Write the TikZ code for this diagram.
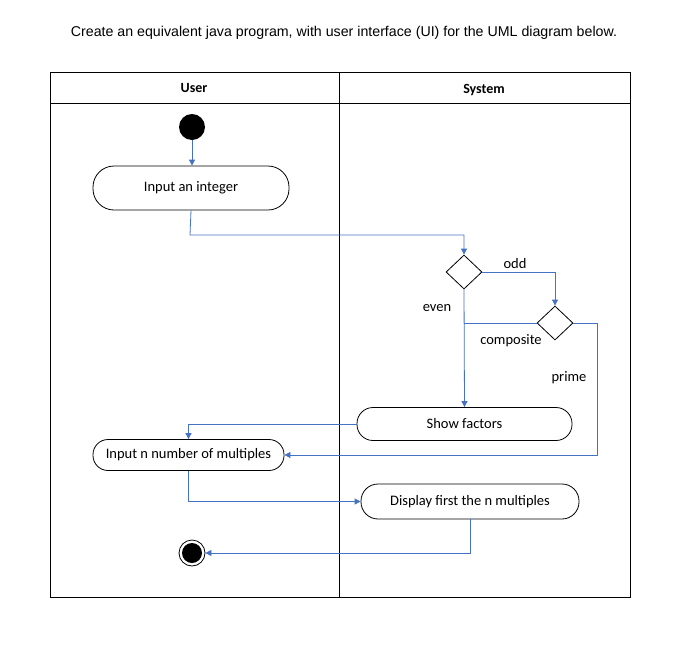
\documentclass[tikz,border=0pt]{standalone}
\usepackage{fontspec}
\setmainfont{Carlito}
\newfontfamily\titlefont{Liberation Sans}
\usetikzlibrary{arrows.meta,shapes.geometric}
\definecolor{flow}{HTML}{4472C4}
\begin{document}
\begin{tikzpicture}[x=1pt,y=-1pt,
  act/.style={draw,thick,font=\fontsize{14.5}{16}\selectfont},
  dec/.style={draw,diamond,thick,minimum width=36pt,minimum height=34pt,inner sep=0pt},
  flw/.style={flow,thick},
  arr/.style={flw,-{Triangle[length=6pt,width=6pt]}},
  lbl/.style={font=\fontsize{14.5}{16}\selectfont}]
\useasboundingbox (0,0) rectangle (688,654);
\node[font=\titlefont\fontsize{14.2}{16}\selectfont] (title) at (344,33) {Create an equivalent java program, with user interface (UI) for the UML diagram below.};
% swimlanes
\draw (50,72) rectangle (630,597);
\draw (50,103) -- (630,103);
\draw (339,72) -- (339,597);
\node[font=\bfseries\fontsize{14}{16}\selectfont] (user) at (194,88) {User};
\node[font=\bfseries\fontsize{14}{16}\selectfont] (sys) at (484,90) {System};
% nodes
\node[circle,fill=black,minimum size=26pt,inner sep=0pt] (start) at (192,127) {};
\node[act,rounded corners=21pt,minimum width=196pt,minimum height=44pt] (in) at (191,188) {Input an integer};
\node[dec] (d1) at (464,272) {};
\node[dec] (d2) at (555,323) {};
\node[act,rounded corners=16pt,minimum width=215pt,minimum height=33pt] (show) at (464.5,424) {Show factors};
\node[act,rounded corners=15pt,minimum width=191pt,minimum height=31pt] (inn) at (188.5,455) {Input n number of multiples};
\node[act,rounded corners=17pt,minimum width=218pt,minimum height=35pt] (disp) at (470,501.5) {Display first the n multiples};
\node[circle,draw,thick,minimum size=26pt,inner sep=0pt] (end) at (192,553) {};
\node[circle,fill=black,minimum size=20pt,inner sep=0pt] (endin) at (192,553) {};
% labels
\node[lbl] (odd) at (515,264) {odd};
\node[lbl] (even) at (437,308) {even};
\node[lbl] (comp) at (511,341) {composite};
\node[lbl] (prime) at (569,378) {prime};
% connectors
\coordinate (j) at (464,323);
\draw[arr] (start) -- (start |- in.north);
\draw[arr] (in.south) -- (190,235) -| (d1.north);
\draw[arr] (d1.east) -| (d2.north);
\draw[arr] (d1.south) -- (show.north);
\draw[flw] (d2.west) -- (j);
\draw[arr] (d2.east) -- (597,323) |- (inn.east);
\draw[arr] (show.west) -| (inn.north);
\draw[arr] (inn.south) |- (disp.west);
\draw[arr] (disp.south) |- (end.east);
\end{tikzpicture}
\end{document}
